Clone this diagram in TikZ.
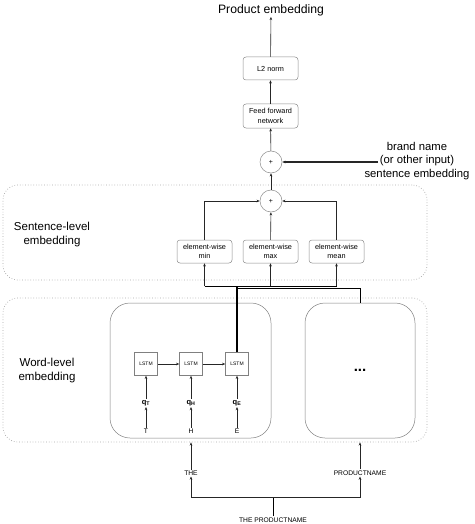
\documentclass[tikz,border=0pt]{standalone}
\usepackage{fontspec}
\setmainfont{Liberation Sans}
\usetikzlibrary{arrows.meta,calc}

\tikzset{
	arr/.style={-{Stealth[length=3.2pt,width=2.6pt]}, line width=0.6pt, black!85},
	procbox/.style={draw=black!45, line width=0.5pt, rounded corners=3pt, fill=white, minimum width=55pt, minimum height=23pt, align=center, inner sep=1pt, font=\fontsize{7.3}{9.5}\selectfont},
	sumnode/.style={circle, draw=black!45, line width=0.5pt, fill=white, minimum size=22pt, inner sep=0pt, font=\fontsize{7}{8}\selectfont},
	levelbox/.style={draw=black!35, dotted, line width=0.7pt, rounded corners=15pt},
	wordbox/.style={draw=black!50, line width=0.5pt, rounded corners=20pt},
	lstmbox/.style={draw=black!50, line width=0.5pt, fill=white, minimum size=23pt, inner sep=0pt, font=\fontsize{5}{6}\selectfont},
	biglabel/.style={align=center, font=\fontsize{11.5}{14}\selectfont},
	smalltext/.style={inner sep=1pt, font=\fontsize{6.7}{8}\selectfont}
}

\begin{document}
\begin{tikzpicture}[x=1pt, y=-1pt]
	\useasboundingbox (0,0) rectangle (474,524);

	% top part
	\node[font=\fontsize{12.2}{14}\selectfont, inner sep=1pt] (prodemb) at (271,10) {Product embedding};
	\node[procbox] (l2) at (270.5,68.5) {L2 norm};
	\node[procbox, minimum height=24pt] (ffn) at (270.5,116) {Feed forward\\network};
	\node[sumnode] (sumtop) at (271,162) {+};
	\node[biglabel, font=\fontsize{11.3}{13.5}\selectfont] (brand) at (417,161) {brand name\\(or other input)\\sentence embedding};
	\coordinate (brandin) at (378,162);

	\draw[arr] (l2) -- (prodemb);
	\draw[arr] (ffn) -- (l2);
	\draw[arr] (sumtop) -- (ffn);
	\draw[arr, line width=1.3pt] (brandin) -- (sumtop);

	% sentence level
	\node[levelbox, minimum width=424pt, minimum height=95pt] (sentlvl) at (215,232.5) {};
	\node[biglabel] (sentlabel) at (52,235) {Sentence-level\\embedding};
	\node[sumnode] (sumpool) at (271,201) {+};
	\node[procbox] (emin) at (204.5,251.5) {element-wise\\min};
	\node[procbox] (emax) at (270.5,251.5) {element-wise\\max};
	\node[procbox] (emean) at (336.5,251.5) {element-wise\\mean};

	\draw[arr] (sumpool) -- (sumtop);
	\draw[arr] (emin.north) |- (sumpool.west);
	\draw[arr] (emax) -- (sumpool);
	\draw[arr] (emean.north) |- (sumpool.east);

	% word level
	\node[levelbox, minimum width=424pt, minimum height=144pt] (wordlvl) at (215,370) {};
	\node[biglabel] (wordlabel) at (47,371) {Word-level\\embedding};
	\node[wordbox, minimum width=161pt, minimum height=135pt] (wb1) at (190.5,370.5) {};
	\node[wordbox, minimum width=110pt, minimum height=135pt, font=\fontsize{15}{16}\selectfont\bfseries] (wb2) at (360,370.5) {...};

	\node[lstmbox] (lstm1) at (146,364) {LSTM};
	\node[lstmbox] (lstm2) at (191,364) {LSTM};
	\node[lstmbox] (lstm3) at (237,364) {LSTM};
	\draw[arr] (lstm1) -- (lstm2);
	\draw[arr] (lstm2) -- (lstm3);

	\foreach \name/\x/\ch in {T/146/T, H/191/H, E/237/E}{
		\node[inner sep=1pt, font=\fontsize{7.5}{8}\selectfont] (q\name) at (\x,403) {\textbf{q\textsubscript{\ch}}};
		\node[smalltext] (c\name) at (\x,431) {\ch};
		\draw[arr] (c\name) -- (q\name);
	}
	\draw[arr, line width=1pt] (qT) -- (lstm1);
	\draw[arr, line width=1pt] (qH) -- (lstm2);
	\draw[arr, line width=1pt] (qE) -- (lstm3);

	% pooling bus
	\coordinate (bus) at (0,286);
	\coordinate (bus2) at (0,288.5);
	\draw[line width=0.6pt] (emin.south |- bus) -- (emean.south |- bus);
	\draw[arr] (emin.south |- bus) -- (emin.south);
	\draw[arr] (emax.south |- bus) -- (emax.south);
	\draw[arr] (emean.south |- bus) -- (emean.south);
	\draw[line width=2pt] (lstm3.north) -- (lstm3.north |- bus);
	\draw[line width=0.6pt] (lstm3.north |- bus2) -| (wb2.north);

	% input words
	\node[smalltext] (the) at (191,473) {THE};
	\node[smalltext] (pname) at (360,473) {PRODUCTNAME};
	\node[smalltext] (phrase) at (273,520) {THE PRODUCTNAME};
	\coordinate (fork) at (0,497);
	\draw[arr] (the) -- (the |- wordlvl.south);
	\draw[arr] (pname) -- (pname |- wordlvl.south);
	\draw[line width=0.6pt] (phrase) -- (phrase |- fork);
	\draw[arr] (phrase |- fork) -| (the);
	\draw[arr] (phrase |- fork) -| (pname);
\end{tikzpicture}
\end{document}
